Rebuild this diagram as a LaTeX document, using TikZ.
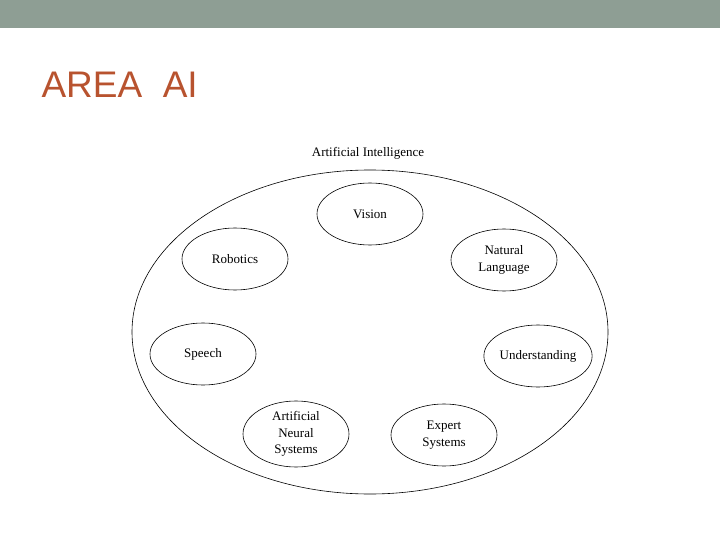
\documentclass[tikz,border=0pt]{standalone}
\usepackage{fontspec}
\setmainfont{Liberation Serif}
\newfontfamily\titlefont{Liberation Sans}
\usetikzlibrary{shapes.geometric}
\definecolor{barc}{HTML}{8E9E94}
\definecolor{titlec}{HTML}{B8532F}
\begin{document}
\begin{tikzpicture}[x=1pt,y=-1pt,
  area/.style={draw,line width=0.6pt,ellipse,minimum width=106pt,minimum height=62pt,align=center,font=\fontsize{13}{16.5}\selectfont,inner sep=0pt}]
\useasboundingbox (0,0) rectangle (720,540);
\fill[barc] (0,0) rectangle (720,28);
\node[anchor=west,text=titlec,font=\titlefont\fontsize{37}{40}\selectfont] (title) at (38,85) {AREA\ \ AI};
\node[draw,line width=0.6pt,ellipse,minimum width=476pt,minimum height=324pt] (ai) at (370,332) {};
\node[font=\fontsize{13}{14}\selectfont] (ail) at (368,153) {Artificial Intelligence};
\node[area] (v) at (370,214) {Vision};
\node[area] (r) at (235,259) {Robotics};
\node[area] (n) at (504,260) {Natural\\Language};
\node[area] (s) at (203,354) {Speech};
\node[area,minimum width=108pt] (u) at (538,356) {Understanding};
\node[area,minimum height=66pt] (a) at (296,434) {Artificial\\Neural\\Systems};
\node[area] (e) at (444,435) {Expert\\Systems};
\end{tikzpicture}
\end{document}
